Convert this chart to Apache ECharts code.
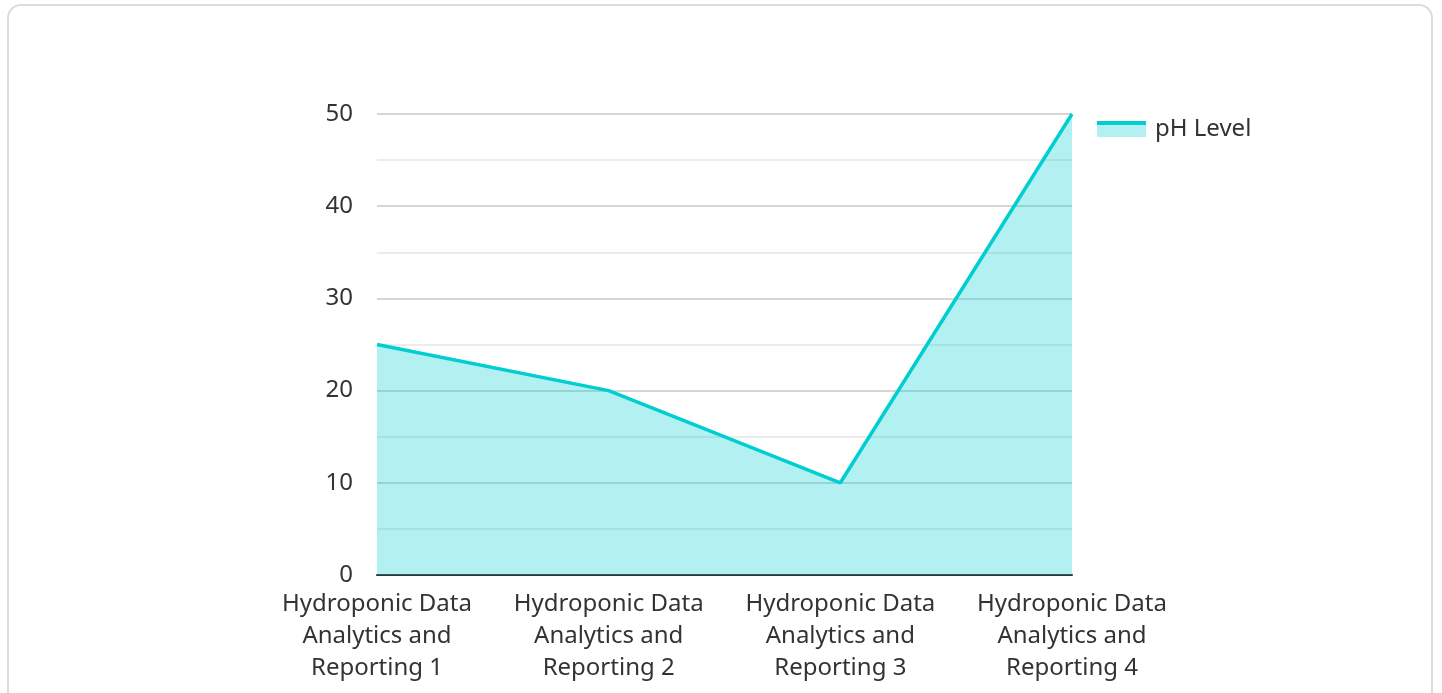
<!DOCTYPE html>
<html>
<head>
<meta charset="utf-8">
<script src="https://cdn.jsdelivr.net/npm/echarts@6/dist/echarts.min.js"></script>
<style>
html,body{margin:0;padding:0;background:#fff;width:1442px;height:693px;overflow:hidden;}
#card{position:absolute;left:7px;top:4px;width:1426px;height:760px;border:2px solid #dcdcdc;border-radius:14px;box-sizing:border-box;}
#chart{position:absolute;left:0;top:0;width:1442px;height:693px;}
</style>
</head>
<body>
<div id="card"></div>
<div id="chart"></div>
<script>
const categories = [
  "Hydroponic Data Analytics and Reporting 1",
  "Hydroponic Data Analytics and Reporting 2",
  "Hydroponic Data Analytics and Reporting 3",
  "Hydroponic Data Analytics and Reporting 4"
];
const seriesName = "pH Level";
const phValues = [25, 20, 10, 50];

const chart = echarts.init(document.getElementById('chart'));
chart.setOption({
  backgroundColor: 'transparent',
  textStyle: { fontFamily: 'Noto Sans' },
  grid: { left: 377, right: 370, top: 114, bottom: 118 },
  legend: {
    data: [seriesName],
    left: 1092, top: 112,
    icon: 'rect',
    itemWidth: 49, itemHeight: 16,
    itemGap: 10,
    itemStyle: {
      color: new echarts.graphic.LinearGradient(0, 0, 0, 1, [
        { offset: 0, color: '#00CED1' },
        { offset: 0.28, color: '#00CED1' },
        { offset: 0.28, color: '#b2f0f1' },
        { offset: 1, color: '#b2f0f1' }
      ]),
      borderWidth: 0
    },
    textStyle: { fontSize: 24, color: '#333', fontFamily: 'Noto Sans', padding: [0, 0, 0, 4] }
  },
  xAxis: {
    type: 'category',
    data: categories,
    boundaryGap: false,
    axisLine: { lineStyle: { color: '#333', width: 2 } },
    axisTick: { show: false },
    axisLabel: {
      interval: 0, margin: 13, fontSize: 24, lineHeight: 32, color: '#333',
      fontFamily: 'Noto Sans',
      formatter: v => v.replace(' Analytics', '\nAnalytics').replace(' Reporting', '\nReporting')
    },
    splitLine: { show: false }
  },
  yAxis: {
    type: 'value',
    min: 0, max: 50, interval: 10,
    axisLine: { show: false },
    axisTick: { show: false },
    axisLabel: { fontSize: 24, color: '#333', margin: 24, fontFamily: 'Noto Sans' },
    splitLine: { lineStyle: { color: '#c8c8c8', width: 1.5 } },
    minorTick: { show: false, splitNumber: 2 },
    minorSplitLine: { show: true, lineStyle: { color: '#e6e6e6', width: 1.5 } }
  },
  series: [{
    name: seriesName,
    type: 'line',
    data: phValues,
    symbol: 'none',
    lineStyle: { color: '#00CED1', width: 3.5 },
    itemStyle: { color: '#00CED1' },
    areaStyle: { color: 'rgba(0,206,209,0.3)', opacity: 1 },
    z: 1
  }]
});
</script>
</body>
</html>
